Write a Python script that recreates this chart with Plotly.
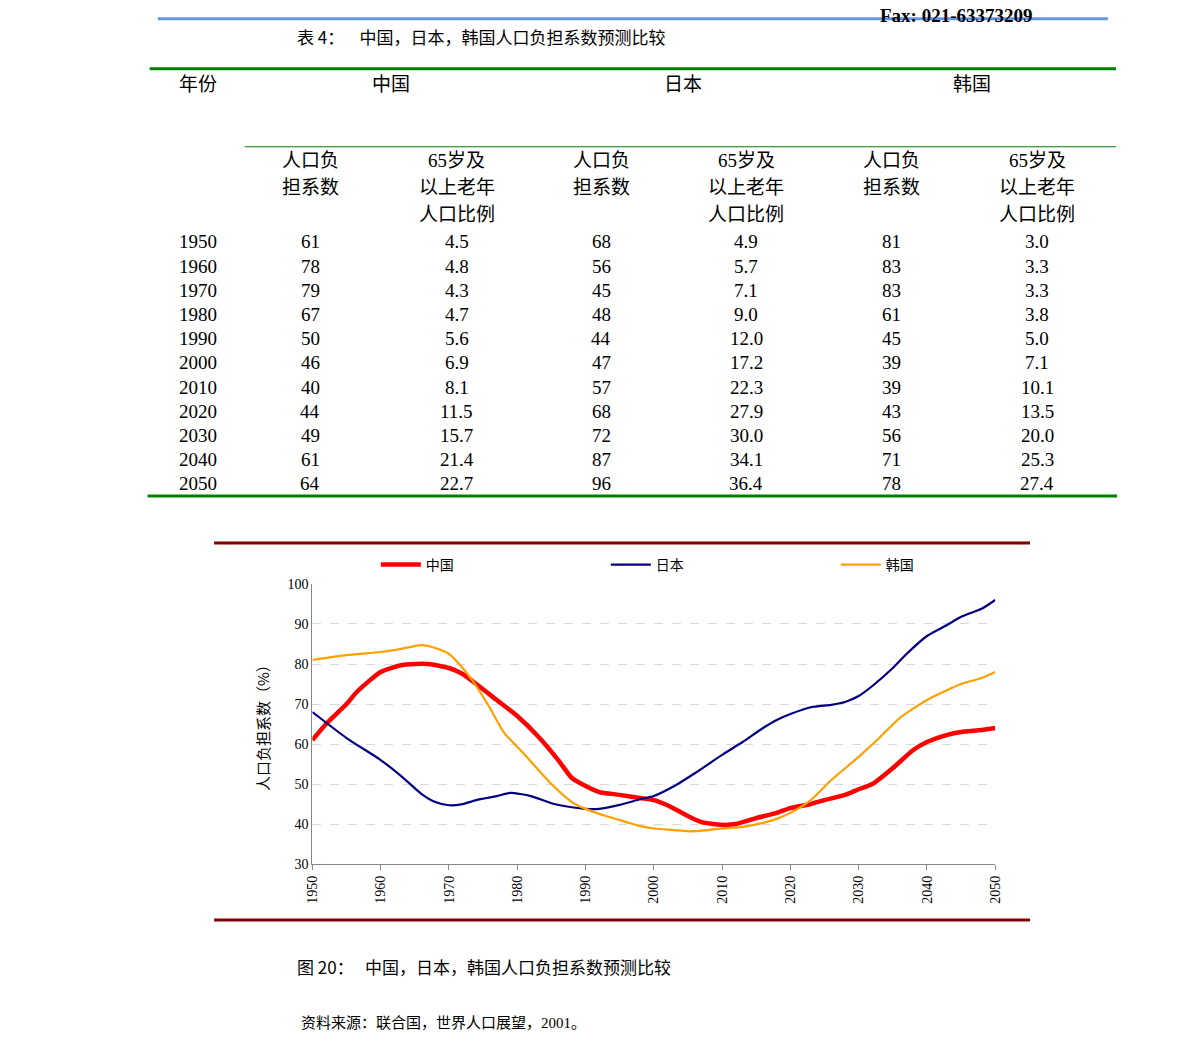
import plotly.graph_objects as go

W, H = 1191, 1053
FONT = "Liberation Serif, Noto Sans CJK SC"
CJK = "Noto Sans CJK SC"

# ---- table data ----
years_tbl = [1950, 1960, 1970, 1980, 1990, 2000, 2010, 2020, 2030, 2040, 2050]
cn_dep = [61, 78, 79, 67, 50, 46, 40, 44, 49, 61, 64]
cn_old = ["4.5", "4.8", "4.3", "4.7", "5.6", "6.9", "8.1", "11.5", "15.7", "21.4", "22.7"]
jp_dep = [68, 56, 45, 48, 44, 47, 57, 68, 72, 87, 96]
jp_old = ["4.9", "5.7", "7.1", "9.0", "12.0", "17.2", "22.3", "27.9", "30.0", "34.1", "36.4"]
kr_dep = [81, 83, 83, 61, 45, 39, 39, 43, 56, 71, 78]
kr_old = ["3.0", "3.3", "3.3", "3.8", "5.0", "7.1", "10.1", "13.5", "20.0", "25.3", "27.4"]

# ---- chart data ----
cn_x = [1950, 1952, 1955, 1956.5, 1960, 1963, 1965, 1967, 1970, 1972, 1974, 1977, 1980, 1983, 1986, 1988, 1990, 1992, 1995, 1998, 2000, 2002, 2005, 2007, 2010, 2012, 2015, 2018, 2020, 2023, 2025, 2028, 2030, 2032, 2035, 2038, 2040, 2043, 2045, 2048, 2050]
cn_y = [61, 65, 70, 73, 78, 79.7, 80, 80, 79, 77.5, 75, 71, 67, 62, 56, 51.5, 49.5, 48, 47.3, 46.5, 46, 44.7, 42, 40.5, 39.8, 40, 41.5, 42.8, 44, 45, 46, 47.3, 48.7, 50, 54, 58.5, 60.5, 62.3, 63, 63.5, 64]
jp_x = [1950, 1955, 1960, 1963, 1966, 1968, 1970, 1972, 1974, 1977, 1979, 1982, 1985, 1988, 1990, 1992, 1995, 1998, 2000, 2003, 2006, 2010, 2013, 2016, 2018, 2020, 2023, 2026, 2028, 2030, 2032, 2035, 2037, 2040, 2043, 2045, 2048, 2050]
jp_y = [68, 61.5, 56, 52, 47.5, 45.5, 44.7, 45, 46, 47, 47.8, 47, 45.2, 44.2, 43.8, 43.8, 44.8, 46.2, 47, 49.5, 52.7, 57.3, 60.5, 64, 66, 67.5, 69.2, 69.8, 70.5, 72, 74.5, 79, 82.5, 87, 89.8, 91.8, 93.8, 96]
kr_x = [1950, 1955, 1960, 1963, 1966, 1968, 1970, 1972, 1974, 1976, 1978, 1981, 1985, 1988, 1990, 1993, 1996, 1998, 2000, 2003, 2005, 2008, 2010, 2013, 2016, 2018, 2020, 2023, 2026, 2030, 2033, 2036, 2040, 2043, 2045, 2048, 2050]
kr_y = [81, 82.2, 83, 83.8, 84.7, 84, 82.5, 79, 74.5, 69, 63, 57.5, 50, 45.5, 43.8, 42, 40.5, 39.5, 38.9, 38.5, 38.2, 38.5, 38.9, 39.3, 40.3, 41.3, 42.8, 46, 51, 56.8, 61.5, 66.5, 71, 73.5, 75, 76.5, 78]
series_names = ["中国", "日本", "韩国"]
x_ticks = list(range(1950, 2051, 10))

# correction for observed rendering offset/scale
AX, BX = 0.9645, 15.5
AY, BY = 0.9853, 14.3


def px(x):
    return ((x - BX) / AX) / W


def py(y):
    return 1 - ((y - BY) / AY) / H


fig = go.Figure()
for name, xs, ys, col, w in [
    (series_names[0], cn_x, cn_y, "#ff0000", 4.5),
    (series_names[1], jp_x, jp_y, "#000080", 2.2),
    (series_names[2], kr_x, kr_y, "#ffa000", 2.2),
]:
    fig.add_trace(go.Scatter(x=xs, y=ys, name=name, mode="lines",
                             line=dict(color=col, width=w, shape="spline", smoothing=0.6)))

ann = []


def T(x, y, s, size=19, anchor="center", font=FONT, color="#000", bold=False):
    ann.append(dict(x=px(x), y=min(py(y), 1.0), xref="paper", yref="paper", text=("<b>%s</b>" % s if bold else s),
                    showarrow=False, xanchor=anchor, yanchor="middle",
                    font=dict(size=size, family=font, color=color)))


T(935, 2, "Fax: 021-63373209", size=19, bold=True)
T(289, 36, "表 4：    中国，日本，韩国人口负担系数预测比较", size=17, anchor="left", font=CJK)
T(194, 84, "年份")
T(383, 84, "中国")
T(668, 84, "日本")
T(950, 84, "韩国")
cols = [304, 447, 588, 730, 872, 1014]
for c in [0, 2, 4]:
    T(cols[c], 160, "人口负")
    T(cols[c], 187, "担系数")
for c in [1, 3, 5]:
    T(cols[c], 160, "65岁及")
    T(cols[c], 187, "以上老年")
    T(cols[c], 214, "人口比例")
for i, yr in enumerate(years_tbl):
    yy = 241 + i * 24.2
    T(194, yy, str(yr))
    for c, v in zip(cols, [cn_dep[i], cn_old[i], jp_dep[i], jp_old[i], kr_dep[i], kr_old[i]]):
        T(c, yy, str(v))
T(289, 965, "图 20：   中国，日本，韩国人口负担系数预测比较", size=17, anchor="left", font=CJK)
T(293, 1022, "资料来源：联合国，世界人口展望，2001。", size=15, anchor="left")

shapes = []


def L(x0, x1, y, color, w):
    shapes.append(dict(type="line", xref="paper", yref="paper", x0=px(x0), x1=px(x1), y0=py(y), y1=py(y),
                       line=dict(color=color, width=w)))


L(155, 1083, 18, "#6495ed", 3)
L(147, 1091, 68, "#008000", 3)
L(240, 1091, 146, "#008000", 1)
L(145, 1092, 495, "#008000", 3)
L(210, 1007, 542, "#800000", 3)
L(210, 1007, 919, "#800000", 3)

fig.update_layout(
    width=W, height=H, margin=dict(l=0, r=0, t=0, b=0),
    paper_bgcolor="white", plot_bgcolor="white",
    font=dict(family=FONT, color="#000"),
    annotations=ann, shapes=shapes,
    legend=dict(orientation="h", x=px(368), y=py(564), xanchor="left", yanchor="middle",
                entrywidth=175, font=dict(size=14, family=CJK), itemwidth=40),
    xaxis=dict(domain=[px(306), px(973)], range=[1950, 2050], tickvals=x_ticks, tickangle=-90,
               showgrid=False, showline=True, linecolor="#888", ticks="outside", ticklen=5,
               tickcolor="#888", tickfont=dict(size=14, family="Liberation Serif"), zeroline=False),
    yaxis=dict(domain=[py(863), py(583)], range=[30, 100], dtick=10, showline=True, linecolor="#888",
               gridcolor="#d9d9d9", griddash="dash", zeroline=False,
               tickfont=dict(size=14, family="Liberation Serif"),
               title=dict(text="人口负担系数（%）", font=dict(size=15, family=CJK), standoff=14)),
)
fig.write_html("out.html")
